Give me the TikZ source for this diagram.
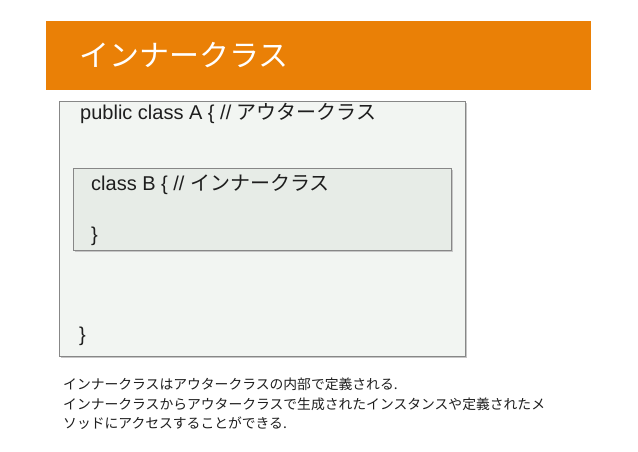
\documentclass[tikz,border=0pt]{standalone}
\usepackage{fontspec}
\setmainfont{Liberation Sans}
\newfontfamily\jpfont{Noto Sans CJK JP}
\usetikzlibrary{positioning}
\definecolor{bannerorange}{RGB}{234,128,6}
\definecolor{outerfill}{RGB}{242,245,242}
\definecolor{innerfill}{RGB}{231,236,231}
\definecolor{boxline}{RGB}{135,135,135}
\definecolor{codetext}{RGB}{30,30,30}

\begin{document}
\begin{tikzpicture}[x=1pt,y=-1pt,
    code/.style={anchor=west,inner sep=0pt,text=codetext,font=\fontsize{20}{24}\selectfont},
    note/.style={anchor=west,inner sep=0pt,text=codetext,align=left,font=\fontsize{13.8}{19.5}\selectfont\jpfont},
    box/.style={draw=boxline,line width=0.9pt}]
    \useasboundingbox (0,0) rectangle (638,451);

    % title bar
    \fill[bannerorange] (46,21) rectangle (591,90);
    \node[anchor=west,inner sep=0pt,text=white,font=\fontsize{30}{36}\selectfont\jpfont] (title) at (79,55) {インナークラス};

    % outer and inner class boxes (with a faint shadow)
    \draw[gray!45,line width=1pt] (61,357.5) -- (466.5,357.5) -- (466.5,103);
    \filldraw[box,fill=outerfill] (59,101) rectangle (465,356);
    \draw[gray!45,line width=1pt] (75,251.5) -- (452.5,251.5) -- (452.5,170);
    \filldraw[box,fill=innerfill] (73,168) rectangle (451,250);

    \node[code] (classA) at (80,113) {public class A \{ // {\jpfont アウタークラス}};
    \node[code] (classB) at (91,184) {class B \{ // {\jpfont インナークラス}};
    \node[code] (endB) at (91,236) {\}};
    \node[code] (endA) at (79,336) {\}};

    \node[note] (notes) at (63,404) {インナークラスはアウタークラスの内部で定義される.\\
      インナークラスからアウタークラスで生成されたインスタンスや定義されたメ\\
      ソッドにアクセスすることができる.};
  \end{tikzpicture}
\end{document}
